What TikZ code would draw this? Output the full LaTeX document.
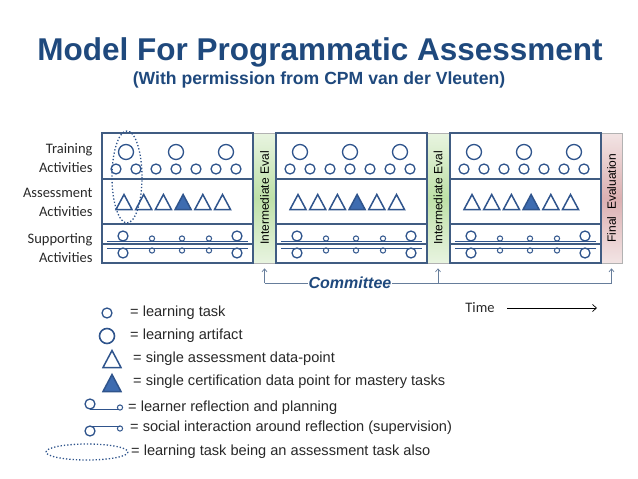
\documentclass[tikz,border=0pt]{standalone}
\usepackage{fontspec}
\setmainfont{Liberation Sans}
\newfontfamily\labfont{Carlito}
\usepackage{xcolor}
\usepackage{tikz}
\usetikzlibrary{arrows.meta}
\usetikzlibrary{positioning}

\definecolor{titleblue}{RGB}{31,73,125}
\definecolor{frameblue}{RGB}{64,92,130}
\definecolor{symblue}{RGB}{47,84,140}
\definecolor{fillblue}{RGB}{62,108,176}
\definecolor{evalgreen}{RGB}{190,224,168}
\definecolor{evallight}{RGB}{232,244,224}
\definecolor{finalred}{RGB}{220,176,178}
\definecolor{finallight}{RGB}{242,228,228}
\definecolor{textgrey}{RGB}{40,40,40}

\begin{document}
\begin{tikzpicture}[x=1pt, y=-1pt,
  segline/.style={frameblue, line width=2.6pt},
  thinline/.style={symblue, line width=0.9pt},
  sym/.style={symblue, line width=1.3pt},
  tri/.style={symblue, line width=1.5pt, line join=miter},
  evalbox/.style={draw=gray!60, line width=0.6pt, rotate=90,
    minimum width=130pt, inner sep=0pt, font=\fontsize{12}{14}\selectfont},
  rowlab/.style={anchor=east, align=right, text=textgrey,
    font=\labfont\fontsize{14.5}{19}\selectfont},
  legtext/.style={anchor=west, text=textgrey, inner sep=0pt,
    font=\fontsize{14.6}{17}\selectfont},
  cmtarrow/.style={frameblue!80, line width=0.7pt, -{Straight Barb[length=3pt, width=5pt]}}]
  \useasboundingbox (0,0) rectangle (638,479);

  % title
  \node[text=titleblue, font=\bfseries\fontsize{31.5}{36}\selectfont] (title) at (320,52)
    {Model For Programmatic Assessment};
  \node[text=titleblue, font=\bfseries\fontsize{17.6}{20}\selectfont] (subtitle) at (319,80)
    {(With permission from CPM van der Vleuten)};

  % row labels
  \node[rowlab] (lab1) at (96,158) {Training\\Activities};
  \node[rowlab] (lab2) at (96,202) {Assessment\\Activities};
  \node[rowlab] (lab3) at (96,248) {Supporting\\Activities};

  % evaluation columns
  \node[evalbox, minimum height=23pt, top color=evallight, bottom color=evallight,
    middle color=evalgreen] (ev1) at (264.5,198) {Intermediate Eval};
  \node[evalbox, minimum height=24pt, top color=evallight, bottom color=evallight,
    middle color=evalgreen] (ev2) at (438,198) {Intermediate Eval};
  \node[evalbox, minimum height=21pt, top color=finallight, bottom color=finallight,
    middle color=finalred] (fin) at (611.5,198) {Final\ \ Evaluation};

  % the three periods
  \foreach \x in {102,276,450} {
    \draw[segline] (\x,133) rectangle (\x+151,263);
    \draw[segline] (\x,179) -- (\x+151,179);
    \draw[segline] (\x,224) -- (\x+151,224);
    \draw[segline] (\x,244) -- (\x+151,244);
    % training
    \foreach \k in {0,...,2}
      \draw[sym] (\x+24+50*\k,152) circle[radius=7.5pt];
    \foreach \k in {0,...,6}
      \draw[sym] (\x+14+20*\k,169) circle[radius=5pt];
    % assessment
    \foreach \k in {0,1,2,4,5}
      \draw[tri] (\x+14+19.7*\k,209.5) -- ++(8,-15) -- ++(8,15) -- cycle;
    \draw[tri, fill=fillblue] (\x+14+19.7*3,209.5) -- ++(8,-15) -- ++(8,15) -- cycle;
    % supporting
    \draw[thinline] (\x+5,241) -- (\x+146,241);
    \draw[thinline] (\x+5,248) -- (\x+146,248);
    \foreach \s in {21,135} {
      \draw[sym] (\x+\s,236) circle[radius=5pt];
      \draw[sym] (\x+\s,253) circle[radius=5pt];
    }
    \foreach \s in {50,80,107} {
      \draw[sym, line width=1pt] (\x+\s,238.5) circle[radius=2.6pt];
      \draw[sym, line width=1pt] (\x+\s,250.5) circle[radius=2.6pt];
    }
  }
  \draw[symblue, line width=1.3pt, dotted] (127,177) ellipse[x radius=15, y radius=46];

  % committee
  \coordinate (cm1) at (264.5,283);
  \coordinate (cm2) at (438,283);
  \coordinate (cm3) at (611.5,283);
  \draw[frameblue!80, line width=0.7pt] (cm1) -- (cm3);
  \draw[cmtarrow] (cm1) -- ([yshift=-5pt]ev1.west);
  \draw[cmtarrow] (cm2) -- ([yshift=-5pt]ev2.west);
  \draw[cmtarrow] (cm3) -- ([yshift=-5pt]fin.west);
  \node[fill=white, inner sep=1pt, text=titleblue,
    font=\bfseries\itshape\fontsize{16}{18}\selectfont] (cmt) at (350,283) {Committee};

  % time
  \node[text=textgrey, font=\labfont\fontsize{14.5}{17}\selectfont] (time) at (480,308) {Time};
  \coordinate (tend) at (597,308);
  \draw[black, line width=0.7pt, -{Straight Barb[length=4pt, width=7pt]}] ([xshift=9pt]time.east) -- (tend);

  % legend
  \draw[sym] (107,313) circle[radius=5pt];
  \node[legtext] (leg1) at (130,313) {= learning task};
  \draw[sym, line width=1.6pt] (107,336) circle[radius=7.5pt];
  \node[legtext] (leg2) at (130,336) {= learning artifact};
  \draw[tri] (103,367.5) -- ++(9,-17) -- ++(9,17) -- cycle;
  \node[legtext] (leg3) at (133,359) {= single assessment data-point};
  \draw[tri, fill=fillblue] (103,391.5) -- ++(9,-17) -- ++(9,17) -- cycle;
  \node[legtext] (leg4) at (133,382) {= single certification data point for mastery tasks};
  \draw[sym] (90,404) circle[radius=5pt];
  \draw[thinline] (90,409) -- (117.5,409);
  \draw[sym, line width=1pt] (120,407.5) circle[radius=2.6pt];
  \node[legtext] (leg5) at (128,408) {= learner reflection and planning};
  \draw[sym] (90,431) circle[radius=5pt];
  \draw[thinline] (90,426) -- (120,426);
  \draw[sym, line width=1pt] (120,428.5) circle[radius=2.6pt];
  \node[legtext] (leg6) at (130,428) {= social interaction around reflection (supervision)};
  \draw[symblue, line width=1.3pt, dotted] (87,452) ellipse[x radius=41, y radius=8];
  \node[legtext] (leg7) at (131,452) {= learning task being an assessment task also};
\end{tikzpicture}
\end{document}
